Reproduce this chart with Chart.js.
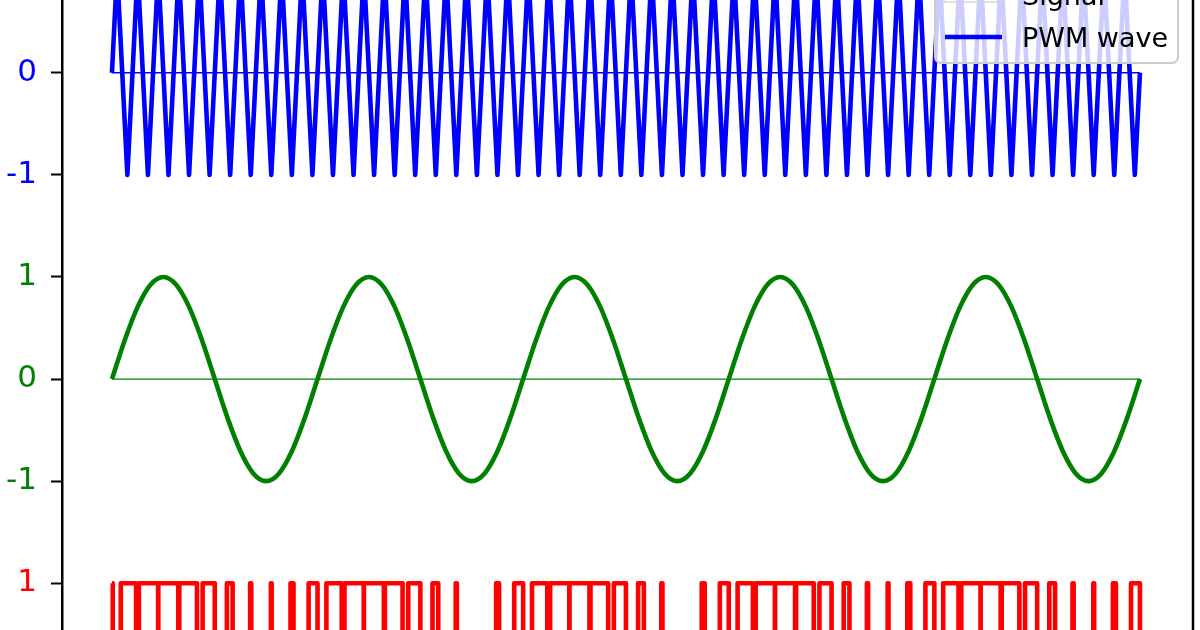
<!DOCTYPE html>
<html>
<head>
<meta charset="utf-8">
<script src="https://cdn.jsdelivr.net/npm/chart.js@4.4.1/dist/chart.umd.min.js"></script>
<style>
  html, body { margin: 0; padding: 0; background: #fff; }
  canvas { display: block; }
</style>
</head>
<body>
<canvas id="pwmChart" width="1200" height="630"></canvas>
<script>
// time axis in ms (0 .. 1000)

// carrier: triangle wave vertices
const carrierT = [
  0,
  5, 15, 25, 35, 45, 55, 65, 75, 85, 95,
  105, 115, 125, 135, 145, 155, 165, 175, 185, 195,
  205, 215, 225, 235, 245, 255, 265, 275, 285, 295,
  305, 315, 325, 335, 345, 355, 365, 375, 385, 395,
  405, 415, 425, 435, 445, 455, 465, 475, 485, 495,
  505, 515, 525, 535, 545, 555, 565, 575, 585, 595,
  605, 615, 625, 635, 645, 655, 665, 675, 685, 695,
  705, 715, 725, 735, 745, 755, 765, 775, 785, 795,
  805, 815, 825, 835, 845, 855, 865, 875, 885, 895,
  905, 915, 925, 935, 945, 955, 965, 975, 985, 995,
  1000
];
const carrierV = [
  0,
  1, -1, 1, -1, 1, -1, 1, -1, 1, -1,
  1, -1, 1, -1, 1, -1, 1, -1, 1, -1,
  1, -1, 1, -1, 1, -1, 1, -1, 1, -1,
  1, -1, 1, -1, 1, -1, 1, -1, 1, -1,
  1, -1, 1, -1, 1, -1, 1, -1, 1, -1,
  1, -1, 1, -1, 1, -1, 1, -1, 1, -1,
  1, -1, 1, -1, 1, -1, 1, -1, 1, -1,
  1, -1, 1, -1, 1, -1, 1, -1, 1, -1,
  1, -1, 1, -1, 1, -1, 1, -1, 1, -1,
  1, -1, 1, -1, 1, -1, 1, -1, 1, -1,
  0
];

// modulating signal (sine, 5 periods)
const signalT = [
  0, 12.5, 25, 37.5, 50, 62.5, 75, 87.5,
  100, 112.5, 125, 137.5, 150, 162.5, 175, 187.5,
  200, 212.5, 225, 237.5, 250, 262.5, 275, 287.5,
  300, 312.5, 325, 337.5, 350, 362.5, 375, 387.5,
  400, 412.5, 425, 437.5, 450, 462.5, 475, 487.5,
  500, 512.5, 525, 537.5, 550, 562.5, 575, 587.5,
  600, 612.5, 625, 637.5, 650, 662.5, 675, 687.5,
  700, 712.5, 725, 737.5, 750, 762.5, 775, 787.5,
  800, 812.5, 825, 837.5, 850, 862.5, 875, 887.5,
  900, 912.5, 925, 937.5, 950, 962.5, 975, 987.5,
  1000
];
const signalV = [
  0, 0.383, 0.707, 0.924, 1, 0.924, 0.707, 0.383,
  0, -0.383, -0.707, -0.924, -1, -0.924, -0.707, -0.383,
  0, 0.383, 0.707, 0.924, 1, 0.924, 0.707, 0.383,
  0, -0.383, -0.707, -0.924, -1, -0.924, -0.707, -0.383,
  0, 0.383, 0.707, 0.924, 1, 0.924, 0.707, 0.383,
  0, -0.383, -0.707, -0.924, -1, -0.924, -0.707, -0.383,
  0, 0.383, 0.707, 0.924, 1, 0.924, 0.707, 0.383,
  0, -0.383, -0.707, -0.924, -1, -0.924, -0.707, -0.383,
  0, 0.383, 0.707, 0.924, 1, 0.924, 0.707, 0.383,
  0, -0.383, -0.707, -0.924, -1, -0.924, -0.707, -0.383,
  0
];

// PWM output: switching instants and the level after each one
const pwmT = [
  0, 0.8,
  8.6, 23.5, 26.2, 44.9, 45.1, 64.5, 65.5, 82.7, 88.2, 100,
  111.8, 117.4, 134.4, 135.5, 154.6, 155.4, 173.7, 176.6, 191.3, 200,
  208.6, 223.5, 226.2, 244.9, 245.1, 264.5, 265.5, 282.7, 288.2, 300,
  311.8, 317.4, 334.4, 335.5, 373.7, 376.6, 391.3, 400,
  408.6, 423.5, 426.2, 444.9, 445.1, 464.5, 465.5, 482.7, 488.2, 500,
  511.8, 517.4, 534.4, 535.5, 573.7, 576.6, 591.3, 600,
  608.6, 623.5, 626.2, 644.9, 645.1, 664.5, 665.5, 682.7, 688.2, 700,
  711.8, 717.4, 734.4, 735.5, 754.6, 755.4, 773.7, 776.6, 791.3, 800,
  808.6, 823.5, 826.2, 844.9, 845.1, 864.5, 865.5, 882.7, 888.2, 900,
  911.8, 917.4, 934.4, 935.5, 954.6, 955.4, 973.7, 976.6, 991.3, 1000
];
const pwmV = [
  1, 0,
  1, 0, 1, 0, 1, 0, 1, 0, 1, 0,
  1, 0, 1, 0, 1, 0, 1, 0, 1, 0,
  1, 0, 1, 0, 1, 0, 1, 0, 1, 0,
  1, 0, 1, 0, 1, 0, 1, 0,
  1, 0, 1, 0, 1, 0, 1, 0, 1, 0,
  1, 0, 1, 0, 1, 0, 1, 0,
  1, 0, 1, 0, 1, 0, 1, 0, 1, 0,
  1, 0, 1, 0, 1, 0, 1, 0, 1, 0,
  1, 0, 1, 0, 1, 0, 1, 0, 1, 0,
  1, 0, 1, 0, 1, 0, 1, 0, 1, 0
];

// y ticks (each trace sits on its own band)
const tickValues = [3, 2, 1, 0, -1, -2];
const tickLabels = ['0', '-1', '1', '0', '-1', '1'];
const tickColors = ['#0000ff', '#0000ff', '#008000', '#008000', '#008000', '#ff0000'];
const legendLabels = ['Signal', 'PWM wave'];

const BLUE = '#0000ff', GREEN = '#008000', RED = '#ff0000';
const CARRIER_OFFSET = 3, SIGNAL_OFFSET = 0, PWM_OFFSET = -3;
const FONT = '"DejaVu Sans", "Liberation Sans", sans-serif';

function toPoints(ts, vs, offset) {
  return ts.map((t, i) => ({ x: t, y: vs[i] + offset }));
}
function zeroLine(ts, offset) {
  return [{ x: ts[0], y: offset }, { x: ts[ts.length - 1], y: offset }];
}

// legend box drawn inside the plot, top right (partly cut off like the source)
const legendBox = {
  id: 'legendBox',
  afterDatasetsDraw(chart) {
    const ctx = chart.ctx;
    ctx.save();
    ctx.beginPath();
    ctx.roundRect(935, -45, 243, 108, 6);
    ctx.fillStyle = 'rgba(255,255,255,0.8)';
    ctx.fill();
    ctx.lineWidth = 2;
    ctx.strokeStyle = '#cccccc';
    ctx.stroke();

    // handle of first entry (mostly outside the view)
    ctx.strokeStyle = '#d6d6d6';
    ctx.lineWidth = 1.5;
    ctx.strokeRect(944, -20, 58, 22);

    // handle of second entry
    ctx.beginPath();
    ctx.moveTo(945, 37);
    ctx.lineTo(1002, 37);
    ctx.strokeStyle = BLUE;
    ctx.lineWidth = 4.6;
    ctx.stroke();

    ctx.fillStyle = '#000';
    ctx.font = '27px ' + FONT;
    ctx.textAlign = 'left';
    ctx.textBaseline = 'alphabetic';
    ctx.fillText(legendLabels[0], 1022, 5);
    ctx.fillText(legendLabels[1], 1022, 47);
    ctx.restore();
  }
};

// right spine
const rightSpine = {
  id: 'rightSpine',
  afterDraw(chart) {
    const { ctx, chartArea } = chart;
    ctx.save();
    ctx.beginPath();
    ctx.moveTo(chartArea.right, chartArea.top);
    ctx.lineTo(chartArea.right, chartArea.bottom);
    ctx.strokeStyle = '#000';
    ctx.lineWidth = 2.5;
    ctx.stroke();
    ctx.restore();
  }
};

const lineStyle = { borderWidth: 4.6, pointRadius: 0, borderJoinStyle: 'round', fill: false };
const thinStyle = { borderWidth: 1.3, pointRadius: 0, fill: false };

new Chart(document.getElementById('pwmChart'), {
  type: 'line',
  data: {
    datasets: [
      Object.assign({ data: toPoints(carrierT, carrierV, CARRIER_OFFSET), borderColor: BLUE, tension: 0 }, lineStyle),
      Object.assign({ data: zeroLine(carrierT, CARRIER_OFFSET), borderColor: BLUE }, thinStyle),
      Object.assign({ data: toPoints(signalT, signalV, SIGNAL_OFFSET), borderColor: GREEN, cubicInterpolationMode: 'monotone' }, lineStyle),
      Object.assign({ data: zeroLine(signalT, SIGNAL_OFFSET), borderColor: GREEN }, thinStyle),
      Object.assign({ data: toPoints(pwmT, pwmV, PWM_OFFSET), borderColor: RED, stepped: 'before' }, lineStyle)
    ]
  },
  options: {
    responsive: false,
    animation: false,
    devicePixelRatio: 1,
    layout: { padding: { left: 0, right: 7, top: 0, bottom: 0 } },
    plugins: { legend: { display: false }, tooltip: { enabled: false } },
    scales: {
      x: {
        type: 'linear',
        display: false,
        min: -48.6,
        max: 1051.6
      },
      y: {
        type: 'linear',
        min: -2.458,
        max: 3.7125,
        border: { display: true, color: '#000', width: 2.5 },
        grid: { display: true, drawOnChartArea: false, drawTicks: true, tickLength: 11, tickWidth: 2, tickColor: '#000' },
        ticks: {
          autoSkip: false,
          padding: 14,
          font: { family: FONT, size: 31 },
          color: (c) => tickColors[c.index],
          callback: (value, index) => tickLabels[index]
        },
        afterBuildTicks: (axis) => {
          axis.ticks = tickValues.map(v => ({ value: v }));
        },
        afterFit: (axis) => {
          axis.width = 62;
          axis.paddingTop = 0;
          axis.paddingBottom = 0;
        }
      }
    }
  },
  plugins: [legendBox, rightSpine]
});
</script>
</body>
</html>
